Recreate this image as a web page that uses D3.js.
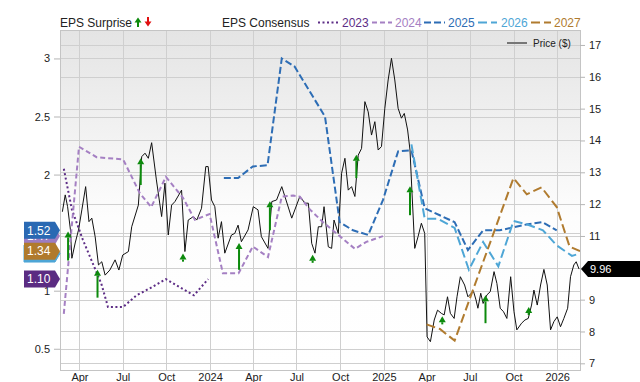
<!DOCTYPE html>
<html><head><meta charset="utf-8">
<script src="https://cdn.jsdelivr.net/npm/d3@7"></script>
<style>body{margin:0;background:#fff;} svg{display:block;font-family:"Liberation Sans",Arial,sans-serif;}</style>
</head><body><svg id="c" width="640" height="382"></svg>
<script>
// ---------- DATA ----------
const priceDates = ["2023-02-24","2023-03-02","2023-03-07","2023-03-13","2023-03-16","2023-03-23","2023-03-30","2023-04-06","2023-04-14","2023-04-21","2023-04-27","2023-05-04","2023-05-11","2023-05-18","2023-05-25","2023-06-04","2023-06-15","2023-06-23","2023-07-01","2023-07-13","2023-07-20","2023-08-03","2023-08-10","2023-08-17","2023-08-24","2023-08-31","2023-09-10","2023-09-21","2023-09-28","2023-10-05","2023-10-12","2023-10-19","2023-11-02","2023-11-09","2023-11-16","2023-11-27","2023-12-04","2023-12-14","2023-12-23","2023-12-28",
"2024-01-04","2024-01-11","2024-01-18","2024-01-25","2024-02-01","2024-02-15","2024-02-22","2024-02-29","2024-03-07","2024-03-21","2024-04-01","2024-04-11","2024-04-18","2024-05-02","2024-05-10","2024-05-20","2024-05-31","2024-06-21","2024-07-08","2024-07-19","2024-07-26","2024-08-02","2024-08-09","2024-08-16","2024-08-23","2024-08-28","2024-09-06","2024-09-13","2024-09-18","2024-09-27","2024-10-04","2024-10-11","2024-10-18","2024-10-25","2024-11-01","2024-11-08","2024-11-15","2024-11-22","2024-11-29","2024-12-06","2024-12-13","2024-12-20","2024-12-27",
"2025-01-03","2025-01-10","2025-01-17","2025-01-24","2025-01-31","2025-02-07","2025-02-13","2025-02-20","2025-02-25","2025-03-01","2025-03-07","2025-03-14","2025-03-21","2025-03-28","2025-04-02","2025-04-09","2025-04-17","2025-04-24","2025-05-02","2025-05-08","2025-05-15","2025-05-21","2025-05-29","2025-06-04","2025-06-11","2025-06-20","2025-06-27","2025-07-04","2025-07-09","2025-07-14","2025-07-18","2025-07-24","2025-07-29","2025-08-06","2025-08-13","2025-08-21","2025-08-27","2025-09-03","2025-09-10","2025-09-17","2025-09-25","2025-10-02","2025-10-08","2025-10-18","2025-10-25","2025-11-01","2025-11-08","2025-11-13","2025-11-20","2025-11-27","2025-12-04","2025-12-11","2025-12-18","2025-12-25",
"2026-01-01","2026-01-08","2026-01-15","2026-01-23","2026-01-29","2026-02-05","2026-02-10","2026-02-16"];
const priceValues = [11.76,12.29,11.92,11.19,10.30,10.78,11.19,11.82,12.55,11.45,11.56,10.98,10.09,10.19,9.77,9.93,10.25,9.93,10.40,10.51,11.29,11.97,13.49,13.60,13.44,13.93,12.76,11.61,12.66,11.03,11.97,12.08,12.44,10.51,11.50,11.61,11.50,11.87,13.18,13.18,
12.13,11.92,10.93,11.45,10.46,11.03,11.08,11.34,10.82,11.19,11.92,11.82,10.98,10.61,12.08,12.13,12.55,11.56,12.24,12.03,12.03,10.77,10.46,11.29,11.29,11.92,10.66,10.61,11.50,11.08,12.97,13.44,12.44,12.55,12.24,13.54,13.75,15.22,14.90,14.17,14.59,13.70,13.81,
15.01,15.90,16.58,15.90,15.01,14.70,14.85,14.33,13.70,12.44,10.61,10.98,11.40,11.08,7.83,7.68,8.36,8.67,8.57,8.52,9.09,8.57,8.41,9.09,9.72,9.46,9.09,9.20,9.25,8.99,8.73,9.20,8.88,9.15,9.25,9.88,9.51,8.73,8.62,8.41,9.72,8.62,8.05,8.26,8.36,8.41,8.83,9.30,8.83,9.46,9.95,9.46,8.05,8.31,
8.46,8.15,8.41,8.73,9.72,10.09,10.19,9.96];

const seriesNames = ["2023","2024","2025","2026","2027"];
const eps2023Dates = ["2023-02-27","2023-03-16","2023-04-08","2023-05-17","2023-05-31","2023-07-02","2023-07-30","2023-08-27","2023-09-30","2023-10-29","2023-11-28","2023-12-28"];
const eps2023Values = [2.05,1.70,1.44,1.06,0.86,0.86,0.96,1.02,1.10,1.03,0.96,1.10];
const eps2024Dates = ["2023-02-27","2023-03-31","2023-05-07","2023-07-02","2023-08-06","2023-08-30","2023-09-30","2023-11-05","2023-11-30","2023-12-31","2024-01-28","2024-03-01","2024-03-31","2024-05-02","2024-05-31","2024-06-24","2024-07-08","2024-07-29","2024-08-26","2024-09-30","2024-11-01","2024-11-25","2024-12-30"];
const eps2024Values = [0.80,2.24,2.15,2.13,1.84,1.72,1.98,1.80,1.61,1.66,1.15,1.15,1.38,1.29,1.81,1.82,1.81,1.70,1.59,1.47,1.36,1.42,1.47];
const eps2025Dates = ["2024-01-30","2024-02-29","2024-03-31","2024-05-01","2024-05-31","2024-06-27","2024-08-30","2024-09-30","2024-10-28","2024-11-29","2024-12-30","2025-01-31","2025-02-28","2025-03-28","2025-05-30","2025-06-27","2025-07-29","2025-09-02","2025-10-28","2025-12-01","2025-12-31"];
const eps2025Values = [1.97,1.97,2.07,2.08,3.00,2.93,2.50,1.59,1.52,1.48,1.78,2.20,2.21,1.71,1.59,1.35,1.52,1.52,1.57,1.59,1.52];
const eps2026Dates = ["2025-02-28","2025-03-28","2025-04-25","2025-05-30","2025-06-29","2025-07-29","2025-08-30","2025-10-01","2025-10-30","2025-12-02","2025-12-31","2026-02-01","2026-02-18"];
const eps2026Values = [2.26,1.62,1.62,1.54,1.18,1.42,1.21,1.60,1.57,1.52,1.39,1.30,1.32];
const eps2027Dates = ["2025-04-01","2025-04-29","2025-05-30","2025-10-01","2025-10-29","2025-11-29","2025-12-31","2026-01-27","2026-02-18"];
const eps2027Values = [0.71,0.67,0.57,1.97,1.83,1.89,1.72,1.38,1.34];

const surpriseDates = ["2023-03-08","2023-05-09","2023-08-08","2023-11-05","2024-03-02","2024-05-06","2024-08-04","2024-11-04","2025-02-25","2025-05-04","2025-08-03","2025-11-02"];
const surpriseFrom = [1.26,0.94,1.91,1.25,1.18,1.52,1.24,1.97,1.65,0.71,0.72,0.79];
const surpriseTo   = [1.51,1.18,2.14,1.32,1.41,1.77,1.31,2.17,1.90,0.78,0.96,0.86];

const leftTicks = [0.5,1,1.5,2,2.5,3];
const leftTickLabels = ["0.5","1","","2","2.5","3"];       // 1.5 sits under the value tags
const rightTicks = [7,8,9,10,11,12,13,14,15,16,17];
const rightTickLabels = ["7","8","9","","11","12","13","14","15","16","17"]; // 10 sits under the price tag
const xDomain = ["2023-02-19","2026-02-18"];

// ---------- STYLES ----------
const colors = {"2023":"#5d2d86","2024":"#a580c3","2025":"#2d6db5","2026":"#4ea6d6","2027":"#b07b2f"};
const dashes = {"2023":"2,2.5","2024":"5,3","2025":"7,3","2026":"9,4","2027":"9,4"};

// ---------- BUILD ----------
const parse = d3.timeParse("%Y-%m-%d");
const L=60,R=580,T=30,B=370;
const svg = d3.select("#c");
const x = d3.scaleTime().domain(xDomain.map(parse)).range([L,R]);
const yL = d3.scaleLinear().domain([0.317,3.245]).range([B,T]);
const yR = d3.scaleLinear().domain([6.79,17.47]).range([B,T]);

const defs = svg.append("defs");
const grad = defs.append("linearGradient").attr("id","bg").attr("x1",0).attr("y1",0).attr("x2",0).attr("y2",1);
grad.append("stop").attr("offset","0%").attr("stop-color","#e4e4e4");
grad.append("stop").attr("offset","55%").attr("stop-color","#fdfdfd");
grad.append("stop").attr("offset","100%").attr("stop-color","#ffffff");
defs.append("clipPath").attr("id","clip").append("rect").attr("x",L).attr("y",T).attr("width",R-L).attr("height",B-T);

svg.append("rect").attr("x",L).attr("y",T).attr("width",R-L).attr("height",B-T).attr("fill","url(#bg)");

const xTicks = d3.timeMonth.every(3).range(...x.domain());
const grid = svg.append("g").attr("stroke","#cfcfcf").attr("stroke-width",1);
xTicks.forEach(d=>{const px=Math.round(x(d))+0.5; grid.append("line").attr("x1",px).attr("x2",px).attr("y1",T).attr("y2",B);});
leftTicks.forEach(v=>{const py=Math.round(yL(v))+0.5; grid.append("line").attr("x1",L).attr("x2",R).attr("y1",py).attr("y2",py);});
rightTicks.forEach(v=>{const py=Math.round(yR(v))+0.5; grid.append("line").attr("x1",L).attr("x2",R).attr("y1",py).attr("y2",py);});
svg.append("rect").attr("x",L+0.5).attr("y",T+0.5).attr("width",R-L).attr("height",B-T).attr("fill","none").attr("stroke","#c4c4c4");

// axes
const fmtX = d=> d.getMonth()===0 ? d3.timeFormat("%Y")(d) : d3.timeFormat("%b")(d);
const ax = svg.append("g").attr("transform",`translate(0,${B})`).call(d3.axisBottom(x).tickValues(xTicks).tickFormat(fmtX).tickSize(0).tickPadding(3));
const al = svg.append("g").attr("transform",`translate(${L},0)`).call(d3.axisLeft(yL).tickValues(leftTicks).tickFormat((d,i)=>leftTickLabels[i]).tickSize(6).tickPadding(4));
const ar = svg.append("g").attr("transform",`translate(${R},0)`).call(d3.axisRight(yR).tickValues(rightTicks).tickFormat((d,i)=>rightTickLabels[i]).tickSize(5).tickPadding(4));
[ax,al,ar].forEach(g=>{g.select(".domain").remove(); g.selectAll("line").attr("stroke","#b5b5b5"); g.selectAll("text").attr("fill","#222").style("font-size","11px").style("font-family","'Liberation Sans',Arial,sans-serif");});

const plot = svg.append("g").attr("clip-path","url(#clip)");
// price
const priceData = priceDates.map((d,i)=>({date:parse(d),v:priceValues[i]}));
plot.append("path").datum(priceData).attr("fill","none").attr("stroke","#111").attr("stroke-width",1)
  .attr("stroke-linejoin","round").attr("d",d3.line().x(d=>x(d.date)).y(d=>yR(d.v)));

// consensus
const epsData = {
  "2023": eps2023Dates.map((d,i)=>({date:parse(d),v:eps2023Values[i]})),
  "2024": eps2024Dates.map((d,i)=>({date:parse(d),v:eps2024Values[i]})),
  "2025": eps2025Dates.map((d,i)=>({date:parse(d),v:eps2025Values[i]})),
  "2026": eps2026Dates.map((d,i)=>({date:parse(d),v:eps2026Values[i]})),
  "2027": eps2027Dates.map((d,i)=>({date:parse(d),v:eps2027Values[i]}))
};
const lineL = d3.line().x(d=>x(d.date)).y(d=>yL(d.v));
seriesNames.forEach(s=>{
  plot.append("path").datum(epsData[s]).attr("fill","none").attr("stroke",colors[s]).attr("stroke-width",2)
    .attr("stroke-dasharray",dashes[s]).attr("d",lineL);
});

// surprise arrows
const arrows = plot.append("g");
surpriseDates.forEach((d,i)=>{
  const cx = x(parse(d)), y0 = yL(surpriseFrom[i]), y1 = yL(surpriseTo[i]);
  const up = surpriseTo[i] >= surpriseFrom[i];
  const col = up ? "#0c8a0c" : "#e01010";
  const headY = up ? y1+6 : y1-6;
  arrows.append("line").attr("x1",cx).attr("x2",cx).attr("y1",y0).attr("y2",headY).attr("stroke",col).attr("stroke-width",2);
  arrows.append("path").attr("d",`M${cx-3.5},${headY}L${cx+3.5},${headY}L${cx},${y1}Z`).attr("fill",col);
});

// left value tags
const tagOrder = ["2024","2026","2023","2027","2025"];
const tagColors = {"2023":"#5b2c82","2024":"#9d7cc0","2025":"#2a69b3","2026":"#4ea6d6","2027":"#b07a2c"};
tagOrder.forEach(s=>{
  const arr = epsData[s]; const v = arr[arr.length-1].v; const ty = yL(v);
  const g = svg.append("g");
  g.append("path").attr("d",`M24,${ty-8.5}H55L60,${ty}L55,${ty+8.5}H24Z`).attr("fill",tagColors[s]).attr("stroke",s==="2026"?"#4ea6d6":"none");
  g.append("text").attr("x",27).attr("y",ty).attr("dy","0.35em").attr("fill","#fff").style("font-size","12px").text(d3.format(".2f")(v));
});

// price tag
const lastP = priceValues[priceValues.length-1]; const py = yR(lastP);
svg.append("path").attr("d",`M581,${py}L588,${py-8}H640V${py+8}H588Z`).attr("fill","#000");
svg.append("text").attr("x",590).attr("y",py).attr("dy","0.35em").attr("fill","#fff").style("font-size","11px").text(d3.format(".2f")(lastP));

// legend
const lg = svg.append("g").style("font-size","12px");
lg.append("text").attr("x",60).attr("y",27).attr("fill","#222").text("EPS Surprise");
lg.append("line").attr("x1",138).attr("x2",138).attr("y1",27).attr("y2",22).attr("stroke","#0c8a0c").attr("stroke-width",2);
lg.append("path").attr("d","M134.5,22.5L141.5,22.5L138,17.5Z").attr("fill","#0c8a0c");
lg.append("line").attr("x1",148).attr("x2",148).attr("y1",17).attr("y2",22).attr("stroke","#e01010").attr("stroke-width",2);
lg.append("path").attr("d","M144.5,21.5L151.5,21.5L148,26.5Z").attr("fill","#e01010");
lg.append("text").attr("x",222).attr("y",27).attr("fill","#222").text("EPS Consensus");
const legX = {"2023":[318,338,342],"2024":[372,392,395],"2025":[424,445,448],"2026":[478,497,501],"2027":[531,551,554]};
seriesNames.forEach(s=>{
  const [a,b,t] = legX[s];
  lg.append("line").attr("x1",a).attr("x2",b).attr("y1",22.5).attr("y2",22.5).attr("stroke",colors[s]).attr("stroke-width",2).attr("stroke-dasharray",dashes[s]);
  lg.append("text").attr("x",t).attr("y",27).attr("fill",colors[s]).text(s);
});
svg.append("line").attr("x1",507).attr("x2",527).attr("y1",43).attr("y2",43).attr("stroke","#777").attr("stroke-width",2);
svg.append("text").attr("x",533).attr("y",46.5).attr("fill","#222").style("font-size","10px").text("Price ($)");
</script></body></html>
